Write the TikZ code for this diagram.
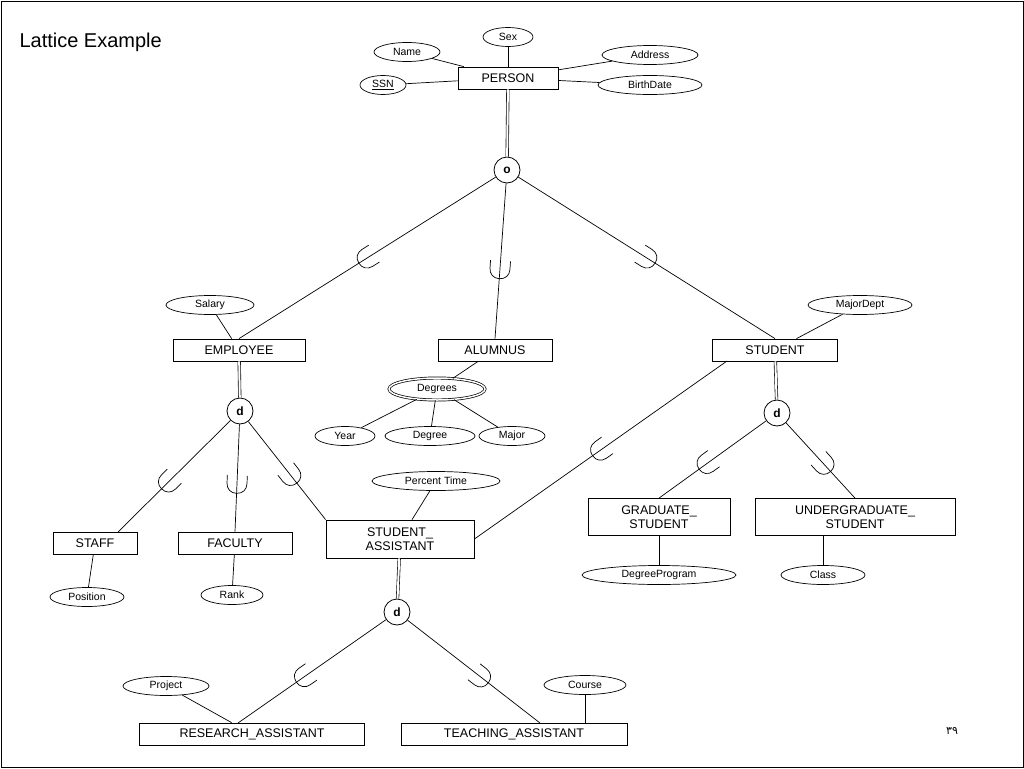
\documentclass[tikz,border=0pt]{standalone}
\usepackage{fontspec}
\setmainfont{Liberation Sans}
\newfontfamily\arf{DejaVu Sans}
\usetikzlibrary{shapes.geometric,decorations.markings}
\begin{document}
\begin{tikzpicture}[x=1pt,y=-1pt,
 ent/.style={draw,line width=0.8pt,minimum height=22pt,font=\fontsize{12.5}{14}\selectfont,align=center,inner sep=1pt},
 att/.style={draw,ellipse,line width=0.7pt,minimum height=19pt,inner sep=0pt,font=\fontsize{10.5}{12}\selectfont},
 spec/.style={draw,circle,line width=0.8pt,minimum size=26pt,inner sep=0pt,font=\bfseries\fontsize{12}{12}\selectfont},
 dbl/.style={double,double distance=2pt,line width=0.6pt},
 ln/.style={line width=0.7pt},
 sub/.style={ln,postaction={decorate},decoration={markings,mark=at position #1 with {\draw[line width=0.7pt] (-8pt,10pt) -- (0pt,10pt) .. controls (6pt,10pt) and (10pt,6pt) .. (10pt,0pt) .. controls (10pt,-6pt) and (6pt,-10pt) .. (0pt,-10pt) -- (-8pt,-10pt);}}},
 sub/.default=0.5]
\useasboundingbox (0,0) rectangle (1024,768);
\draw[line width=0.6pt] (1,1) rectangle (1023,767);
\node[anchor=west,font=\fontsize{20}{24}\selectfont] (title) at (16,42) {Lattice Example};
\node[font=\arf\fontsize{11}{12}\selectfont] (pg) at (952,731) {٣٩};

\node[ent,minimum width=100pt] (person) at (508,78) {PERSON};
\node[att,minimum width=50pt] (sex) at (508,37) {Sex};
\node[att,minimum width=66pt] (name) at (407,52) {Name};
\node[att,minimum width=46pt] (ssn) at (383,85) {\underline{SSN}};
\node[att,minimum width=96pt] (addr) at (650,55) {Address};
\node[att,minimum width=104pt] (bd) at (650,85) {BirthDate};
\foreach \a in {sex,name,ssn,addr,bd} \draw[ln] (person) -- (\a);

\node[spec] (o) at (507,170) {o};
\draw[dbl] (person) -- (o);

\node[ent,minimum width=132pt] (emp) at (239,350) {EMPLOYEE};
\node[ent,minimum width=114pt] (alu) at (495,350) {ALUMNUS};
\node[ent,minimum width=125pt] (stu) at (775,350) {STUDENT};
\draw[sub=0.5] (o) -- (emp.north);
\draw[sub=0.55] (o) -- (alu.north);
\draw[sub=0.5] (o) -- (stu.north);

\node[att,minimum width=88pt] (sal) at (210,305) {Salary};
\draw[ln] (sal) -- (emp);
\node[att,minimum width=104pt] (md) at (860,305) {MajorDept};
\draw[ln] (md) -- (stu);

\node[att,minimum width=96pt,minimum height=22pt,double,double distance=1.5pt] (deg) at (437,389) {Degrees};
\draw[ln] (alu) -- (deg);
\node[att,minimum width=60pt] (year) at (345,436) {Year};
\node[att,minimum width=90pt] (dg) at (430,436) {Degree};
\node[att,minimum width=66pt] (maj) at (512,436) {Major};
\foreach \a in {year,dg,maj} \draw[ln] (deg) -- (\a);

\node[spec] (d1) at (240,411) {d};
\draw[dbl] (emp) -- (d1);
\node[ent,minimum width=84pt] (staff) at (95,543) {STAFF};
\node[ent,minimum width=114pt] (fac) at (235,543) {FACULTY};
\node[ent,minimum width=148pt,minimum height=38pt] (sa) at (400,539) {STUDENT\_\\ASSISTANT};
\coordinate (stf) at (118,532);
\draw[sub=0.55] (d1) -- (stf);
\draw[sub=0.55] (d1) -- (fac.north);
\draw[sub=0.55] (d1) -- (sa.north west);
\coordinate (stc) at (727,361);
\draw[sub=0.5] (stc) -- (sa.east);
\node[att,minimum width=74pt] (pos) at (87,597) {Position};
\node[att,minimum width=62pt] (rank) at (232,595) {Rank};
\draw[ln] (staff) -- (pos);
\draw[ln] (fac) -- (rank);
\node[att,minimum width=128pt] (pt) at (436,481) {Percent Time};
\draw[ln] (pt) -- (sa);

\node[spec] (d2) at (777,413) {d};
\draw[dbl] (stu) -- (d2);
\node[ent,minimum width=142pt,minimum height=37pt] (gs) at (659,517) {GRADUATE\_\\STUDENT};
\node[ent,minimum width=200pt,minimum height=37pt] (ugs) at (855,517) {UNDERGRADUATE\_\\STUDENT};
\draw[sub=0.55] (d2) -- (gs.north);
\draw[sub=0.55] (d2) -- (ugs.north);
\node[att,minimum width=154pt] (dp) at (659,575) {DegreeProgram};
\node[att,minimum width=84pt] (cls) at (823,575) {Class};
\draw[ln] (gs) -- (dp);
\draw[ln] (ugs.south -| cls) -- (cls);

\node[spec] (d3) at (397,612) {d};
\draw[dbl] (sa) -- (d3);
\node[ent,minimum width=225pt] (ra) at (252,734) {RESEARCH\_ASSISTANT};
\node[ent,minimum width=226pt] (ta) at (514,734) {TEACHING\_ASSISTANT};
\coordinate (rac) at (238,723);
\coordinate (tac) at (540,723);
\draw[sub=0.55] (d3) -- (rac);
\draw[sub=0.55] (d3) -- (tac);
\node[att,minimum width=86pt] (proj) at (166,686) {Project};
\node[att,minimum width=82pt] (crs) at (585,685) {Course};
\draw[ln] (proj) -- (ra);
\draw[ln] (crs) -- (ta.north -| crs);
\end{tikzpicture}
\end{document}
